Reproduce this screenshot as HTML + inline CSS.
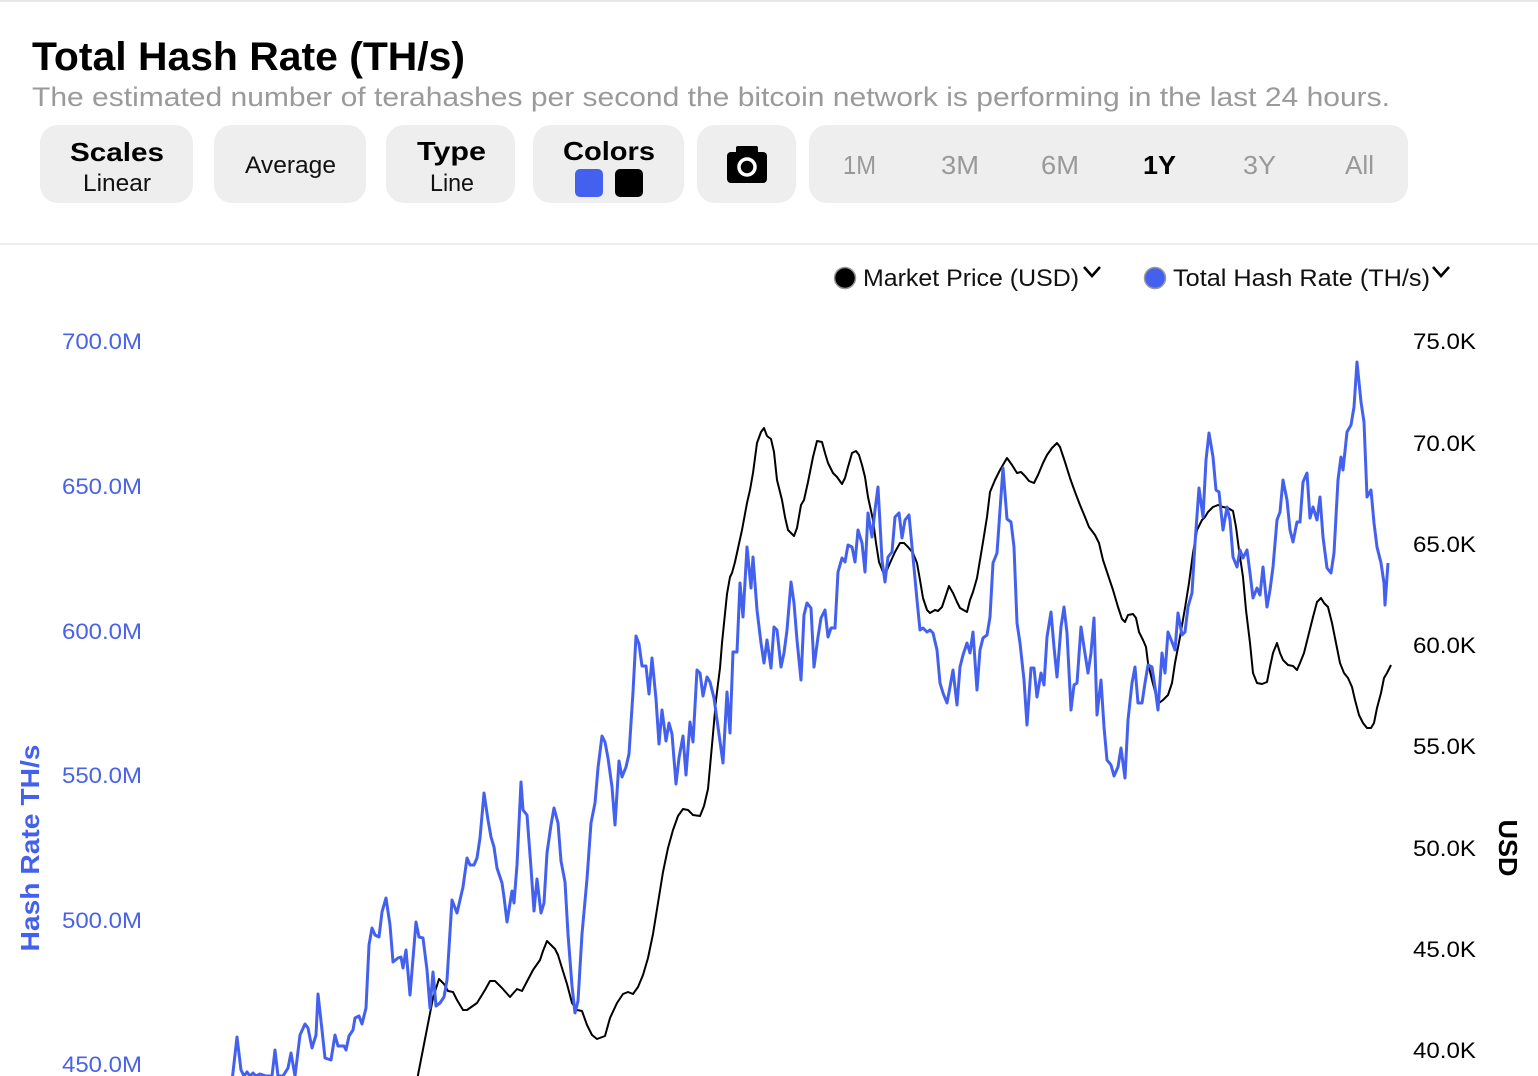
<!DOCTYPE html>
<html><head><meta charset="utf-8"><style>
html,body{margin:0;padding:0;background:#fff;width:1538px;height:1076px;overflow:hidden}
svg{display:block}
text{font-family:"Liberation Sans",Arial,sans-serif}
</style></head><body>
<svg width="1538" height="1076" viewBox="0 0 1538 1076" xmlns="http://www.w3.org/2000/svg">
<rect x="0" y="0" width="1538" height="1076" fill="#fff"/>
<rect x="0" y="0" width="1538" height="2" fill="#e8e8e8"/>
<rect x="0" y="243" width="1538" height="2" fill="#ececec"/>

<text x="32" y="70" font-size="40" font-weight="bold" fill="#000" textLength="433" lengthAdjust="spacingAndGlyphs">Total Hash Rate (TH/s)</text>
<text x="32" y="106" font-size="27" fill="#9a9a9a" textLength="1358" lengthAdjust="spacingAndGlyphs">The estimated number of terahashes per second the bitcoin network is performing in the last 24 hours.</text>

<!-- buttons -->
<rect x="40" y="125" width="153" height="78" rx="18" fill="#eeeeee"/>
<text x="70" y="161" font-size="26" font-weight="bold" fill="#000" textLength="94" lengthAdjust="spacingAndGlyphs">Scales</text>
<text x="83" y="191" font-size="24" fill="#111" textLength="68" lengthAdjust="spacingAndGlyphs">Linear</text>

<rect x="214" y="125" width="152" height="78" rx="18" fill="#eeeeee"/>
<text x="245" y="173" font-size="24" fill="#111" textLength="91" lengthAdjust="spacingAndGlyphs">Average</text>

<rect x="386" y="125" width="129" height="78" rx="18" fill="#eeeeee"/>
<text x="417" y="160" font-size="26" font-weight="bold" fill="#000" textLength="69" lengthAdjust="spacingAndGlyphs">Type</text>
<text x="430" y="191" font-size="24" fill="#111" textLength="44" lengthAdjust="spacingAndGlyphs">Line</text>

<rect x="533" y="125" width="151" height="78" rx="18" fill="#eeeeee"/>
<text x="563" y="160" font-size="26" font-weight="bold" fill="#000" textLength="92" lengthAdjust="spacingAndGlyphs">Colors</text>
<rect x="575" y="169" width="28" height="28" rx="5" fill="#4361ee"/>
<rect x="615" y="169" width="28" height="28" rx="5" fill="#000"/>

<rect x="697" y="125" width="99" height="78" rx="18" fill="#eeeeee"/>
<rect x="727" y="152" width="40" height="31" rx="4" fill="#000"/>
<rect x="736" y="146" width="22" height="9" rx="2" fill="#000"/>
<circle cx="747" cy="167" r="8" fill="none" stroke="#fff" stroke-width="3.5"/>

<rect x="809" y="125" width="599" height="78" rx="18" fill="#eeeeee"/>
<text x="843" y="174" font-size="26" fill="#999" textLength="33" lengthAdjust="spacingAndGlyphs">1M</text>
<text x="941" y="174" font-size="26" fill="#999" textLength="38" lengthAdjust="spacingAndGlyphs">3M</text>
<text x="1041" y="174" font-size="26" fill="#999" textLength="38" lengthAdjust="spacingAndGlyphs">6M</text>
<text x="1143" y="174" font-size="26" font-weight="bold" fill="#000" textLength="33" lengthAdjust="spacingAndGlyphs">1Y</text>
<text x="1243" y="174" font-size="26" fill="#999" textLength="33" lengthAdjust="spacingAndGlyphs">3Y</text>
<text x="1345" y="174" font-size="26" fill="#999" textLength="29" lengthAdjust="spacingAndGlyphs">All</text>

<!-- legend -->
<circle cx="845" cy="278" r="10.5" fill="#000" stroke="#999" stroke-width="1.5"/>
<text x="863" y="286" font-size="24" fill="#111" textLength="216" lengthAdjust="spacingAndGlyphs">Market Price (USD)</text>
<polyline points="1084,267 1092,276 1100,267" fill="none" stroke="#000" stroke-width="2.6"/>
<circle cx="1155" cy="278" r="10.5" fill="#4361ee" stroke="#999" stroke-width="1.5"/>
<text x="1173" y="286" font-size="24" fill="#111" textLength="257" lengthAdjust="spacingAndGlyphs">Total Hash Rate (TH/s)</text>
<polyline points="1433,267 1441,276 1449,267" fill="none" stroke="#000" stroke-width="2.6"/>

<!-- left axis labels -->
<g font-size="22" fill="#4a63e6">
<text x="62" y="349" textLength="80" lengthAdjust="spacingAndGlyphs">700.0M</text>
<text x="62" y="494" textLength="80" lengthAdjust="spacingAndGlyphs">650.0M</text>
<text x="62" y="639" textLength="80" lengthAdjust="spacingAndGlyphs">600.0M</text>
<text x="62" y="783" textLength="80" lengthAdjust="spacingAndGlyphs">550.0M</text>
<text x="62" y="928" textLength="80" lengthAdjust="spacingAndGlyphs">500.0M</text>
<text x="62" y="1072" textLength="80" lengthAdjust="spacingAndGlyphs">450.0M</text>
</g>
<text transform="translate(39,848) rotate(-90)" text-anchor="middle" font-size="26" font-weight="bold" fill="#4361ee" textLength="207" lengthAdjust="spacingAndGlyphs">Hash Rate TH/s</text>

<!-- right axis labels -->
<g font-size="22" fill="#000">
<text x="1413" y="349" textLength="63" lengthAdjust="spacingAndGlyphs">75.0K</text>
<text x="1413" y="451" textLength="63" lengthAdjust="spacingAndGlyphs">70.0K</text>
<text x="1413" y="552" textLength="63" lengthAdjust="spacingAndGlyphs">65.0K</text>
<text x="1413" y="653" textLength="63" lengthAdjust="spacingAndGlyphs">60.0K</text>
<text x="1413" y="754" textLength="63" lengthAdjust="spacingAndGlyphs">55.0K</text>
<text x="1413" y="856" textLength="63" lengthAdjust="spacingAndGlyphs">50.0K</text>
<text x="1413" y="957" textLength="63" lengthAdjust="spacingAndGlyphs">45.0K</text>
<text x="1413" y="1058" textLength="63" lengthAdjust="spacingAndGlyphs">40.0K</text>
</g>
<text transform="translate(1499,848) rotate(90)" text-anchor="middle" font-size="26" font-weight="bold" fill="#000" textLength="57" lengthAdjust="spacingAndGlyphs">USD</text>

<!-- black price line -->
<polyline fill="none" stroke="#000" stroke-width="2" stroke-linejoin="round" points="416,1090 418,1075 433,998 439,979 444,984 448,991 453,992 457,1000 463,1010 467,1010 477,1003 485,990 490,981 495,981 502,988 510,997 517,989 522,991 533,970 540,960 543,951 547,941 555,949 558,955 562,968 567,984 572,1003 577,1010 582,1011 587,1025 592,1035 597,1039 605,1036 610,1018 617,1003 623,994 628,992 633,994 638,987 643,975 648,958 653,934 658,903 663,872 668,848 673,830 678,816 683,809 688,810 693,815 700,816 704,806 708,789 713,734 716,700 720,668 722,643 727,594 730,577 732,573 735,562 742,530 747,503 750,490 753,473 757,443 761,432 764,428 767,436 771,439 774,452 777,480 782,500 785,517 788,530 794,536 797,528 801,505 804,500 808,482 813,457 817,441 822,442 825,453 828,463 833,473 837,477 842,484 845,478 848,467 852,453 856,451 859,455 862,465 865,477 868,497 873,520 876,543 879,562 883,572 887,570 890,563 895,552 900,543 904,543 908,547 913,553 917,563 920,580 923,598 927,610 930,613 935,610 938,611 942,607 946,595 949,586 953,593 957,602 960,608 967,612 970,600 973,592 977,578 980,560 983,542 987,517 990,492 995,480 1000,470 1007,458 1012,465 1017,473 1021,472 1025,476 1029,481 1034,483 1038,475 1043,463 1047,455 1052,448 1057,443 1060,447 1065,462 1070,478 1075,492 1080,505 1085,517 1089,527 1095,535 1099,543 1103,560 1107,572 1113,590 1118,607 1122,619 1125,622 1128,615 1133,614 1136,618 1139,632 1143,640 1146,647 1148,663 1152,680 1156,695 1159,703 1163,700 1168,695 1172,683 1175,663 1180,637 1185,608 1189,583 1193,553 1197,530 1202,520 1205,517 1208,512 1213,507 1218,505 1223,507 1228,508 1233,511 1236,527 1239,550 1243,577 1246,610 1250,643 1253,673 1257,683 1262,684 1267,682 1270,667 1273,653 1277,643 1280,653 1283,660 1288,665 1293,666 1297,670 1300,663 1304,653 1308,637 1313,617 1317,602 1321,598 1324,603 1328,607 1332,623 1336,643 1340,663 1344,673 1348,678 1352,687 1355,700 1359,715 1363,723 1367,728 1371,728 1374,723 1377,708 1381,693 1384,678 1387,673 1391,665"/>

<!-- blue hash rate line -->
<polyline fill="none" stroke="#4361ee" stroke-width="3" stroke-linejoin="round" points="231,1090 237,1037 241,1070 244,1076 247,1072 250,1076 253,1073 256,1076 260,1074 266,1076 272,1076 275,1050 278,1076 283,1076 288,1068 291,1053 295,1076 300,1035 305,1024 308,1028 312,1048 316,1035 318,994 322,1030 325,1058 331,1060 335,1035 338,1046 344,1046 346,1050 349,1036 353,1030 355,1018 359,1016 362,1024 366,1008 369,945 372,928 375,935 379,937 382,912 386,898 390,925 393,962 398,958 401,957 403,968 406,950 410,995 416,922 419,937 423,938 427,970 430,1008 433,972 436,1006 440,1003 444,997 447,980 452,900 457,913 463,887 467,858 470,865 474,865 477,858 480,838 484,793 488,820 491,837 494,847 497,868 502,883 504,897 507,922 512,891 514,903 517,865 521,782 523,810 527,815 531,868 534,911 537,879 541,913 544,903 547,853 551,825 554,808 558,823 561,861 565,882 568,934 572,986 575,1013 578,1001 582,934 587,879 591,823 595,803 598,768 602,736 605,742 608,758 612,787 615,825 619,761 622,777 626,767 629,754 633,692 636,636 639,644 642,666 646,666 649,694 652,658 656,699 659,744 662,710 666,741 669,723 672,734 676,784 679,758 683,736 686,775 690,722 693,742 697,670 700,673 703,696 707,677 710,682 714,698 718,727 723,763 727,692 730,733 733,652 737,652 740,583 743,617 747,547 751,588 753,557 757,610 761,643 764,663 767,640 771,668 774,627 777,630 781,667 784,653 787,630 791,582 794,603 797,640 801,680 804,615 807,603 811,608 814,667 818,637 821,618 825,610 828,637 831,628 835,628 838,572 842,558 845,562 848,545 852,547 855,562 858,530 862,543 865,572 868,513 872,537 875,510 878,487 882,560 885,582 888,557 892,552 895,517 899,513 902,538 905,520 909,515 913,557 917,600 920,630 923,628 927,632 930,630 933,633 937,650 940,683 943,693 947,703 950,687 953,670 957,705 960,667 963,655 967,643 970,653 973,632 977,690 980,650 983,638 987,635 990,617 993,563 997,553 1000,510 1003,468 1007,519 1011,522 1014,547 1017,623 1020,643 1024,680 1027,725 1031,668 1034,668 1037,697 1041,673 1044,685 1047,637 1051,612 1054,647 1057,677 1061,627 1064,607 1067,633 1071,710 1074,685 1077,683 1081,627 1084,647 1088,673 1091,653 1094,618 1097,715 1101,680 1104,727 1107,760 1111,765 1114,776 1118,767 1121,748 1125,778 1128,720 1132,683 1135,667 1138,703 1142,703 1145,683 1148,665 1152,667 1155,687 1158,710 1162,653 1165,673 1168,632 1172,642 1175,650 1178,613 1182,635 1185,632 1188,607 1192,593 1195,543 1199,488 1203,517 1206,460 1209,433 1213,457 1216,490 1219,492 1223,530 1227,507 1230,520 1233,557 1237,567 1240,550 1243,558 1247,550 1250,573 1253,598 1257,588 1260,595 1263,567 1267,607 1270,590 1273,567 1277,520 1280,512 1283,480 1287,500 1290,530 1293,542 1297,522 1300,522 1303,482 1307,473 1310,518 1313,507 1317,520 1320,497 1323,537 1327,568 1331,573 1334,553 1338,480 1341,457 1343,470 1347,432 1351,425 1354,407 1357,362 1361,402 1364,422 1367,497 1371,490 1374,523 1377,547 1381,563 1384,583 1385,605 1388,563"/>
</svg>
</body></html>
